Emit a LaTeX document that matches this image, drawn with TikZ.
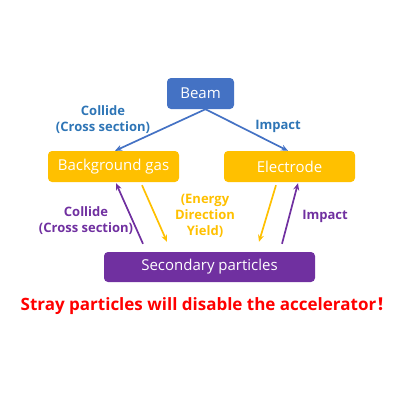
\documentclass[tikz,border=0pt]{standalone}
\usepackage{fontspec}
\setmainfont{Open Sans}
\newfontfamily\cjk{Noto Sans CJK SC}
\usetikzlibrary{arrows.meta}
\definecolor{beamblue}{HTML}{4472C4}
\definecolor{labelblue}{HTML}{2E75B6}
\definecolor{gold}{HTML}{FFC000}
\definecolor{violet}{HTML}{7030A0}
\definecolor{warnred}{HTML}{FF0000}
\begin{document}
\begin{tikzpicture}[x=1pt, y=-1pt,
  box/.style={rounded corners=4pt, text=white, font=\fontsize{15}{17}\selectfont, inner sep=0pt},
  lab/.style={font=\bfseries\fontsize{13}{16}\selectfont, align=center},
  arr/.style={line width=1.7pt, -{Stealth[length=7pt, width=6pt]}}]
\useasboundingbox (0,0) rectangle (400,400);
\node[box, fill=beamblue, minimum width=67pt, minimum height=31pt] (beam) at (200.5,93.5) {Beam};
\node[box, fill=gold, minimum width=131pt, minimum height=31pt] (gas) at (113.5,166.5) {Background gas};
\node[box, fill=gold, minimum width=131pt, minimum height=31pt] (elec) at (289.5,166.5) {Electrode};
\node[box, fill=violet, minimum width=211pt, minimum height=30pt] (sec) at (209.5,267) {Secondary particles};
% beam hits
\draw[arr, beamblue] ([xshift=5pt]beam.south) -- ([xshift=1.5pt]gas.north);
\draw[arr, beamblue] ([xshift=5pt]beam.south) -- ([xshift=-1.5pt]elec.north);
\node[lab, text=labelblue] (collide1) at (103,120) {Collide\\(Cross section)};
\node[lab, text=labelblue] (impact1) at (278,126) {Impact};
% secondary particles
\draw[arr, violet] ([xshift=-66.5pt, yshift=8pt]sec.north) -- ([xshift=2.5pt, yshift=-1pt]gas.south);
\draw[arr, gold] ([xshift=28.5pt, yshift=-3pt]gas.south) -- ([xshift=-42.5pt, yshift=10pt]sec.north);
\draw[arr, gold] ([xshift=-13.5pt, yshift=-3pt]elec.south) -- ([xshift=49.5pt, yshift=10pt]sec.north);
\draw[arr, violet] ([xshift=72.5pt, yshift=8pt]sec.north) -- ([xshift=8.5pt, yshift=-1pt]elec.south);
\node[lab, text=violet] (collide2) at (86,221) {Collide\\(Cross section)};
\node[lab, text=gold] (yield) at (205,216) {(Energy\\Direction\\Yield)};
\node[lab, text=violet] (impact2) at (325,216) {Impact};
\node[font=\bfseries\fontsize{17}{19}\selectfont, text=warnred] (warn) at (207,306) {Stray particles will disable the accelerator{\cjk ！}};
\end{tikzpicture}
\end{document}
